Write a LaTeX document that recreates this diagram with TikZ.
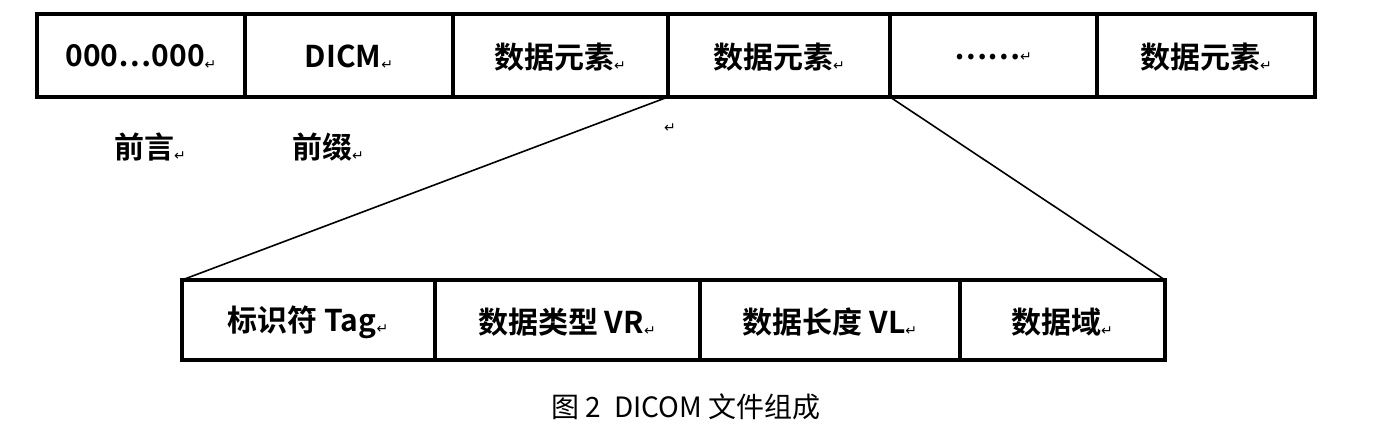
\documentclass[tikz,border=0pt]{standalone}
\usepackage{fontspec}
\setmainfont{Liberation Sans}
\newfontfamily\cjk{Noto Sans CJK SC}
\newfontfamily\cjkb{Noto Sans CJK SC Bold}
\newfontfamily\arr{DejaVu Sans}
\newcommand{\rt}{{\arr\fontsize{7}{8}\selectfont\raisebox{-0.3ex}{↵}}}
\begin{document}
\begin{tikzpicture}[x=0.5pt,y=-0.5pt,
  cell/.style={draw=black,line width=2pt},
  lbl/.style={font=\cjkb\fontsize{15}{17}\selectfont,inner sep=0}]
\useasboundingbox (0,0) rectangle (1373,426);
% top row
\foreach \a/\b/\n in {37/245/c1,245/453/c2,453/668/c3,668/890/c4,890/1097/c5,1097/1315/c6}
  \draw[cell] (\a,14) rectangle (\b,97) coordinate (\n);
\node[lbl] (t1) at (141,57) {000…000\rt};
\node[lbl] (t2) at (349,57) {DICM\rt};
\node[lbl] (t3) at (560,57) {数据元素\rt};
\node[lbl] (t4) at (779,57) {数据元素\rt};
\node[lbl] (t5) at (993,57) {……\rt};
\node[lbl] (t6) at (1206,57) {数据元素\rt};
\node[lbl] (p1) at (150,147) {前言\rt};
\node[lbl] (p2) at (328,147) {前缀\rt};
\node (r) at (670,128) {\rt};
% bottom row
\foreach \a/\b/\n in {182/435/d1,435/700/d2,700/960/d3,960/1165/d4}
  \draw[cell] (\a,280) rectangle (\b,360);
\node[lbl] (b1) at (308,322) {标识符 Tag\rt};
\node[lbl] (b2) at (567,322) {数据类型 VR\rt};
\node[lbl] (b3) at (830,322) {数据长度 VL\rt};
\node[lbl] (b4) at (1062,322) {数据域\rt};
\coordinate (u1) at (668,97); \coordinate (l1) at (182,280);
\coordinate (u2) at (890,97); \coordinate (l2) at (1165,280);
\draw[line width=0.8pt] (u1) -- (l1);
\draw[line width=0.8pt] (u2) -- (l2);
\node[font=\cjk\fontsize{14}{16}\selectfont] (cap) at (686,407) {图 2\ \ DICOM 文件组成};
\end{tikzpicture}
\end{document}
